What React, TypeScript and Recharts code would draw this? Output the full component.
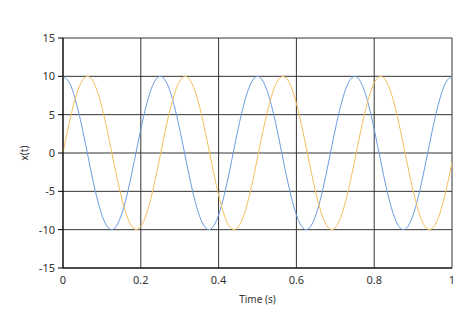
import { CartesianGrid, Line, LineChart, XAxis, YAxis } from 'recharts'

// sample times (s), 1/64 s apart
const times = [
  0, 0.0156, 0.0313, 0.0469, 0.0625, 0.0781, 0.0938, 0.1094, 0.125, 0.1406, 0.1563, 0.1719, 0.1875,
  0.2031, 0.2188, 0.2344, 0.25, 0.2656, 0.2813, 0.2969, 0.3125, 0.3281, 0.3438, 0.3594, 0.375,
  0.3906, 0.4063, 0.4219, 0.4375, 0.4531, 0.4688, 0.4844, 0.5, 0.5156, 0.5313, 0.5469, 0.5625,
  0.5781, 0.5938, 0.6094, 0.625, 0.6406, 0.6563, 0.6719, 0.6875, 0.7031, 0.7188, 0.7344, 0.75,
  0.7656, 0.7813, 0.7969, 0.8125, 0.8281, 0.8438, 0.8594, 0.875, 0.8906, 0.9063, 0.9219, 0.9375,
  0.9531, 0.9688, 0.9844, 1,
]

// blue trace
const seriesA = [
  10, 9.24, 7.07, 3.83, 0, -3.83, -7.07, -9.24, -10, -9.24, -7.07, -3.83, 0, 3.83, 7.07, 9.24,
  10, 9.24, 7.07, 3.83, 0, -3.83, -7.07, -9.24, -10, -9.24, -7.07, -3.83, 0, 3.83, 7.07, 9.24,
  10, 9.24, 7.07, 3.83, 0, -3.83, -7.07, -9.24, -10, -9.24, -7.07, -3.83, 0, 3.83, 7.07, 9.24,
  10, 9.24, 7.07, 3.83, 0, -3.83, -7.07, -9.24, -10, -9.24, -7.07, -3.83, 0, 3.83, 7.07, 9.24,
  10,
]

// orange trace
const seriesB = [
  0, 3.81, 7.04, 9.22, 10, 9.28, 7.15, 3.95, 0.16, -3.66, -6.93, -9.16, -9.99, -9.34, -7.27, -4.1,
  -0.31, 3.52, 6.82, 9.1, 9.99, 9.4, 7.38, 4.24, 0.47, -3.37, -6.71, -9.04, -9.98, -9.46, -7.49, -4.39,
  -0.63, 3.22, 6.58, 8.95, 9.98, 9.49, 7.58, 4.52, 0.78, -3.07, -6.47, -8.88, -9.96, -9.54, -7.68, -4.66,
  -0.94, 2.92, 6.34, 8.81, 9.95, 9.59, 7.78, 4.8, 1.1, -2.77, -6.22, -8.74, -9.93, -9.63, -7.88, -4.94,
  -1.25,
]

const xTicks = [0, 0.2, 0.4, 0.6, 0.8, 1]
const yTicks = [-15, -10, -5, 0, 5, 10, 15]

const data = times.map((t, i) => ({ t, a: seriesA[i], b: seriesB[i] }))

const font = '"Noto Sans", "Open Sans", sans-serif'
const tickStyle = { fill: '#333', fontSize: 11, fontFamily: font }

export default function App() {
  return (
    <div style={{ position: 'absolute', left: 0, top: 0, width: 474, height: 316, background: '#fff' }}>
      <LineChart width={474} height={316} data={data} margin={{ top: 38, right: 22, bottom: 8, left: 0 }}>
        <CartesianGrid stroke="#333" strokeWidth={1} />
        <XAxis
          dataKey="t"
          type="number"
          domain={[0, 1]}
          ticks={xTicks}
          height={40}
          tickLine={false}
          axisLine={{ stroke: '#000' }}
          tick={tickStyle}
          label={{
            value: 'Time (s)',
            position: 'insideBottom',
            offset: 5,
            style: { fill: '#333', fontSize: 10, fontFamily: font },
          }}
        />
        <YAxis
          type="number"
          domain={[-15, 15]}
          ticks={yTicks}
          width={63}
          tickSize={5}
          tickMargin={3}
          tickLine={{ stroke: '#000' }}
          axisLine={{ stroke: '#000' }}
          tick={tickStyle}
          label={{
            value: 'x(t)',
            angle: -90,
            position: 'insideLeft',
            offset: 24,
            style: { fill: '#333', fontSize: 10, fontFamily: font, textAnchor: 'middle' },
          }}
        />
        <Line
          type="natural"
          dataKey="a"
          stroke="#6b9be0"
          strokeWidth={1}
          dot={false}
          isAnimationActive={false}
        />
        <Line
          type="natural"
          dataKey="b"
          stroke="#f5bf5a"
          strokeWidth={1}
          dot={false}
          isAnimationActive={false}
        />
      </LineChart>
    </div>
  )
}
